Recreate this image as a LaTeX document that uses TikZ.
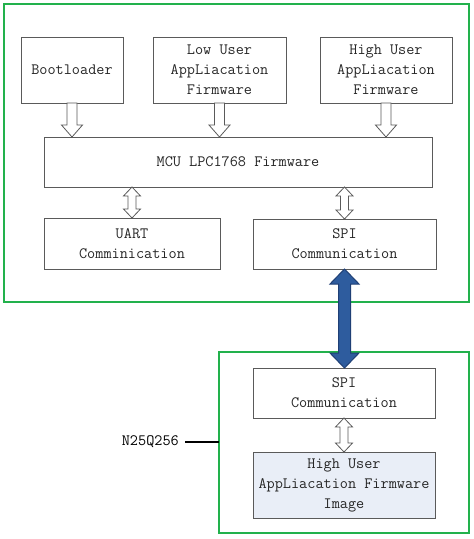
\documentclass[tikz,border=0pt]{standalone}
\usepackage{tikz}
\usetikzlibrary{calc}
\usepackage{xcolor}
\definecolor{frame}{HTML}{22B14C}
\definecolor{edge}{HTML}{5A5A5A}
\definecolor{ink}{HTML}{262626}
\definecolor{navy}{HTML}{2E5C9E}
\definecolor{navyedge}{HTML}{1F3F75}
\definecolor{paleblue}{HTML}{E9EEF7}
\tikzset{
  blk/.style={draw=edge,line width=0.9pt,fill=white,inner sep=0pt,outer sep=0pt,align=center,text=ink,
    font=\ttfamily\fontsize{15.8}{20}\selectfont},
  group/.style={draw=frame,line width=2.4pt,inner sep=0pt,outer sep=0pt},
  hollow/.style={draw=edge,line width=0.8pt,fill=white},
  solid/.style={draw=navyedge,line width=1pt,fill=navy}
}
% one-headed block arrow: style, top, tip, half shaft, half head, head length
\newcommand{\oneway}[6]{\draw[#1] let \p1=(#2), \p2=(#3) in
  (\x1-#4,\y1) -- (\x1+#4,\y1) -- (\x1+#4,\y2+#6) -- (\x1+#5,\y2+#6) -- (\x1,\y2)
  -- (\x1-#5,\y2+#6) -- (\x1-#4,\y2+#6) -- cycle;}
% two-headed block arrow
\newcommand{\twoway}[6]{\draw[#1] let \p1=(#2), \p2=(#3) in
  (\x1,\y1) -- (\x1+#5,\y1-#6) -- (\x1+#4,\y1-#6) -- (\x1+#4,\y2+#6) -- (\x1+#5,\y2+#6)
  -- (\x1,\y2) -- (\x1-#5,\y2+#6) -- (\x1-#4,\y2+#6) -- (\x1-#4,\y1-#6) -- (\x1-#5,\y1-#6) -- cycle;}

\begin{document}
\begin{tikzpicture}[x=1pt,y=-1pt]
  \useasboundingbox[fill=white] (0,0) rectangle (474,539);
  % MCU side
  \node[group,minimum width=465,minimum height=298] (mcuside) at (236.5,153) {};
  \node[blk,minimum width=102,minimum height=66] (boot) at (72,70) {Bootloader};
  \node[blk,minimum width=133,minimum height=66] (lowfw) at (219.5,70) {Low User\\AppLiacation\\Firmware};
  \node[blk,minimum width=132,minimum height=66] (highfw) at (386,70) {High User\\AppLiacation\\Firmware};
  \node[blk,minimum width=388,minimum height=50] (mcu) at (238,162) {MCU LPC1768 Firmware};
  \node[blk,minimum width=176,minimum height=51] (uart) at (132,243.5) {UART\\Comminication};
  \node[blk,minimum width=183,minimum height=50] (spi) at (344.5,244) {SPI\\Communication};
  % flash side
  \node[group,minimum width=250,minimum height=181] (flash) at (344,442.5) {};
  \node[blk,minimum width=182,minimum height=50] (fspi) at (344,393) {SPI\\Communication};
  \node[blk,fill=paleblue,minimum width=182,minimum height=66] (image) at (344,485) {High User\\AppLiacation Firmware\\Image};
  \node[anchor=east,inner sep=0pt,text=black,font=\ttfamily\fontsize{15.8}{20}\selectfont] (chip) at (179,442) {N25Q256};
  \draw[line width=1.8pt] ([xshift=6pt]chip.east) -- (chip.east -| flash.west);

  \oneway{hollow}{boot.south}{mcu.north -| boot.south}{5pt}{10.5pt}{12pt}
  \oneway{hollow}{lowfw.south}{mcu.north -| lowfw.south}{5pt}{10.5pt}{12pt}
  \oneway{hollow}{highfw.south}{mcu.north -| highfw.south}{5pt}{10.5pt}{12pt}
  \twoway{hollow}{mcu.south -| uart.north}{uart.north}{4pt}{8.5pt}{9pt}
  \twoway{hollow}{mcu.south -| spi.north}{spi.north}{4pt}{8.5pt}{9pt}
  \twoway{hollow}{fspi.south}{image.north}{4pt}{8.5pt}{9pt}
  \twoway{solid}{spi.south}{fspi.north -| spi.south}{6pt}{14.5pt}{15pt}
\end{tikzpicture}
\end{document}
